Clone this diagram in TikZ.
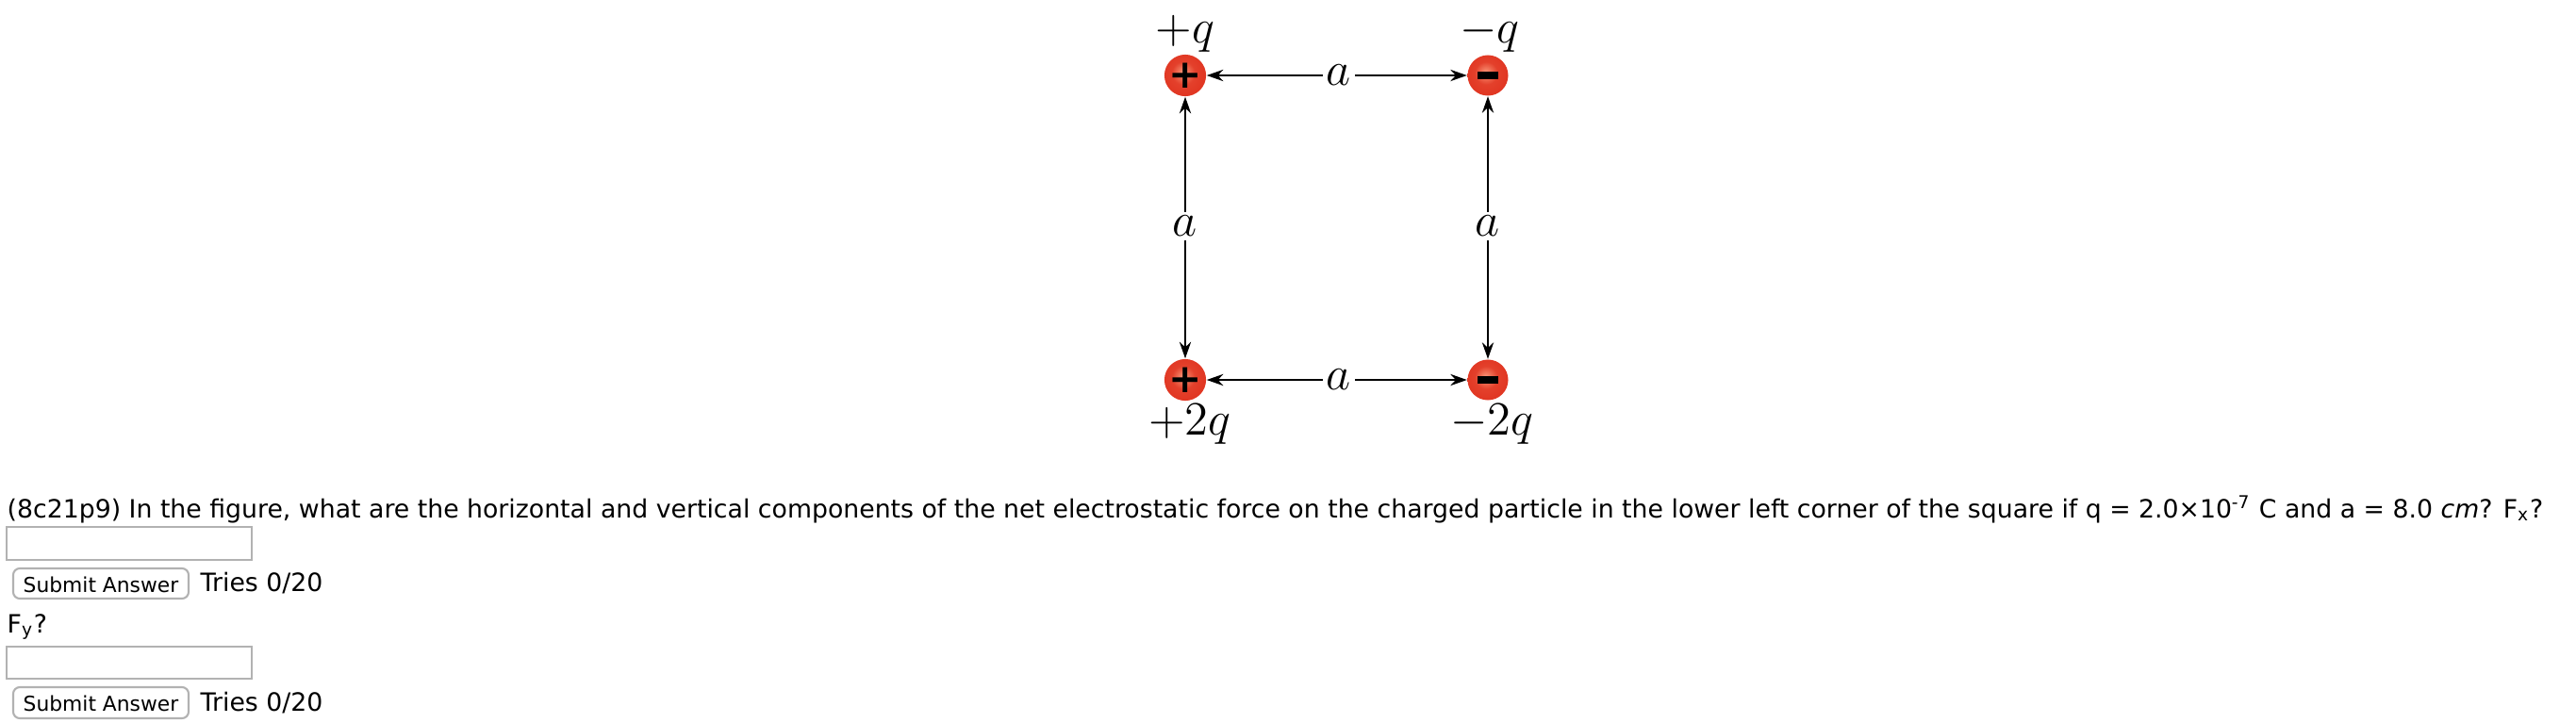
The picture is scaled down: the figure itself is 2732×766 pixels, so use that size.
\documentclass[tikz,border=0pt]{standalone}
\usepackage{fontspec}
\setsansfont{DejaVu Sans}
\usetikzlibrary{arrows.meta}
\definecolor{cin}{RGB}{250,150,120}
\definecolor{cout}{RGB}{225,55,35}
\pgfdeclareradialshading{chg}{\pgfpoint{-3bp}{4bp}}{color(0bp)=(cin); color(14bp)=(cout!90!cin); color(25bp)=(cout); color(50bp)=(cout)}
\begin{document}
\begin{tikzpicture}[x=0.01cm,y=-0.01cm,
  charge/.style={circle,inner sep=0pt,shading=chg,draw=none,minimum size=0.43cm,font=\bfseries\fontsize{12}{12}\selectfont\sffamily},
  minus/.style={line width=2.4pt},
  lbl/.style={font=\fontsize{15}{15}\selectfont,inner sep=1pt},
  dim/.style={draw,line width=0.5pt,-{Stealth[length=5pt,width=3.5pt]}},
  txt/.style={font=\sffamily\fontsize{7.6}{8}\selectfont,inner sep=0pt,anchor=west},
  box/.style={draw=black!30,line width=0.6pt},
  btn/.style={draw=black!30,rounded corners=2pt,line width=0.6pt}]
\useasboundingbox (0,0) rectangle (2732,766);
\node[charge] (tl) at (1257,80) {+};
\node[charge] (tr) at (1578,80) {};
\node[charge] (bl) at (1257,403) {+};
\node[charge] (br) at (1578,403) {};
\draw[minus] ([xshift=-0.11cm]tr.center) -- ([xshift=0.11cm]tr.center);
\draw[minus] ([xshift=-0.11cm]br.center) -- ([xshift=0.11cm]br.center);
\node[lbl] (qtl) at (1257,36) {$+q$};
\node[lbl] (qtr) at (1580,36) {$-q$};
\node[lbl] (qbl) at (1262,450) {$+2q$};
\node[lbl] (qbr) at (1582,450) {$-2q$};
\node[lbl,fill=white] (at) at (1420,80) {$a$};
\node[lbl,fill=white] (ab) at (1420,403) {$a$};
\node[lbl,fill=white] (al) at (1257,240) {$a$};
\node[lbl,fill=white] (ar) at (1578,240) {$a$};
\draw[dim] (at) -- (tl); \draw[dim] (at) -- (tr);
\draw[dim] (ab) -- (bl); \draw[dim] (ab) -- (br);
\draw[dim] (al) -- (tl); \draw[dim] (al) -- (bl);
\draw[dim] (ar) -- (tr); \draw[dim] (ar) -- (br);
\node[txt] (q) at (7,540) {(8c21p9) In the figure, what are the horizontal and vertical components of the net electrostatic force on the charged particle in the lower left corner of the square if q = 2.0×10\textsuperscript{-7} C and a = 8.0 \textit{cm}? F\textsubscript{x}?};
\draw[box] (7,559) rectangle (267,594);
\draw[btn] (14,603) rectangle (200,635);
\node[txt,font=\sffamily\fontsize{6.2}{7}\selectfont,anchor=center] (b1) at (107,620) {Submit Answer};
\node[txt] (t1) at (212,619) {Tries 0/20};
\node[txt] (fy) at (7,665) {F\textsubscript{y}?};
\draw[box] (7,686) rectangle (267,720);
\draw[btn] (14,729) rectangle (200,762);
\node[txt,font=\sffamily\fontsize{6.2}{7}\selectfont,anchor=center] (b2) at (107,746) {Submit Answer};
\node[txt] (t2) at (212,746) {Tries 0/20};
\end{tikzpicture}
\end{document}
